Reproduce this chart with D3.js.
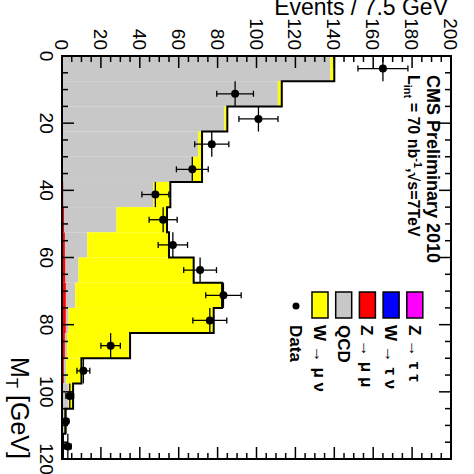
<!DOCTYPE html>
<html><head><meta charset="utf-8">
<script src="https://cdn.jsdelivr.net/npm/d3@7"></script>
<style>body{margin:0;background:#fff}svg{display:block}</style>
</head><body>
<script>
// bins of M_T, 7.5 GeV wide
const binEdges = [0, 7.5, 15, 22.5, 30, 37.5, 45, 52.5, 60, 67.5, 75, 82.5, 90, 97.5, 105, 112.5, 120]
const zmumu  = [0, 0, 0, 0, 0, 0.8, 1.2, 1.5, 1.8, 2, 2, 1.5, 1, 0.5, 0.3, 0.1]
const qcd    = [138, 111, 83.5, 70, 67, 46.2, 26.8, 11.5, 6.7, 4.8, 1.4, 1.1, 1.2, 2.9, 0.7, 0.3]
const wtaunu = [0, 0, 0, 0, 0, 0, 0, 0, 0, 0, 0, 0, 0, 0, 0, 0]
const ztautau = [0, 0, 0, 0, 0, 0, 0, 0, 0, 0, 0, 0, 0, 0, 0, 0]
const wmunu  = [2, 2, 1.5, 2, 5, 8.7, 26, 42, 59.2, 75.5, 74.6, 32.4, 7.8, 2.3, 0.7, 0.1]
const data   = [165, 89, 101, 77, 67, 48, 52, 57, 71, 83, 76, 25, 11, 4, 2, 3]

const layers = [
  { name: 'Z → μ μ', values: zmumu, color: '#ff0000' },
  { name: 'W → τ ν', values: wtaunu, color: '#0000ff' },
  { name: 'Z → τ τ', values: ztautau, color: '#ff00ff' },
  { name: 'QCD', values: qcd, color: '#c8c8c8' },
  { name: 'W → μ ν', values: wmunu, color: '#ffff00' },
]
const legendOrder = ['W → μ ν', 'QCD', 'Z → μ μ', 'W → τ ν', 'Z → τ τ']

const W = 474, H = 474
const svg = d3.select('body').append('svg').attr('width', W).attr('height', H)
  .style('font-family', 'Liberation Sans, Arial, sans-serif')

// chart is drawn rotated: events run left→right, M_T runs top→bottom
const x = d3.scaleLinear().domain([0, 200]).range([62, 451])
const y = d3.scaleLinear().domain([0, 120]).range([56, 459])

// stacked layers
const cum = binEdges.slice(0, -1).map(() => 0)
layers.forEach(l => {
  l.values.forEach((v, i) => {
    if (v <= 0) { return }
    svg.append('rect')
      .attr('x', x(cum[i])).attr('y', y(binEdges[i]))
      .attr('width', x(cum[i] + v) - x(cum[i]))
      .attr('height', y(binEdges[i + 1]) - y(binEdges[i]))
      .attr('fill', l.color)
    cum[i] += v
  })
})

// outline of total
let path = `M${x(0)},${y(0)}`
cum.forEach((c, i) => {
  path += `L${x(c)},${y(binEdges[i])}L${x(c)},${y(binEdges[i + 1])}`
})
path += `L${x(0)},${y(120)}`
svg.append('path').attr('d', path).attr('fill', 'none').attr('stroke', '#000').attr('stroke-width', 2)

// frame
svg.append('rect').attr('x', x(0)).attr('y', y(0))
  .attr('width', x(200) - x(0)).attr('height', y(120) - y(0))
  .attr('fill', 'none').attr('stroke', '#000').attr('stroke-width', 2)

// events ticks (top & bottom)
d3.range(0, 201, 5).forEach(v => {
  const len = v % 20 === 0 ? 12 : 6
  svg.append('line').attr('x1', x(v)).attr('x2', x(v)).attr('y1', y(0)).attr('y2', y(0) + len).attr('stroke', '#000').attr('stroke-width', 1.5)
  svg.append('line').attr('x1', x(v)).attr('x2', x(v)).attr('y1', y(120)).attr('y2', y(120) - len).attr('stroke', '#000').attr('stroke-width', 1.5)
})
// M_T ticks (left & right)
d3.range(0, 121, 5).forEach(v => {
  const len = v % 20 === 0 ? 12 : 6
  svg.append('line').attr('y1', y(v)).attr('y2', y(v)).attr('x1', x(200)).attr('x2', x(200) - len).attr('stroke', '#000').attr('stroke-width', 1.5)
  svg.append('line').attr('y1', y(v)).attr('y2', y(v)).attr('x1', x(0)).attr('x2', x(0) + len).attr('stroke', '#000').attr('stroke-width', 1.5)
})

// tick labels, rotated
d3.range(0, 201, 20).forEach(v => {
  svg.append('text').attr('transform', `translate(${x(v) - 7},50) rotate(90)`)
    .attr('text-anchor', 'end').attr('font-size', 19).text(v)
})
d3.range(0, 121, 20).forEach(v => {
  svg.append('text').attr('transform', `translate(40,${y(v)}) rotate(90)`)
    .attr('text-anchor', 'middle').attr('font-size', 19).text(v)
})

// axis titles
svg.append('text').attr('x', 448).attr('y', 15).attr('text-anchor', 'end')
  .attr('font-size', 23).text('Events / 7.5 GeV')
const mt = svg.append('text').attr('transform', `translate(11,459) rotate(90)`)
  .attr('text-anchor', 'end').attr('font-size', 25)
mt.append('tspan').text('M')
mt.append('tspan').attr('font-size', 17).attr('dy', 5).text('T')
mt.append('tspan').attr('dy', -5).text(' [GeV]')

// data points with errors
data.forEach((d, i) => {
  const cy = y((binEdges[i] + binEdges[i + 1]) / 2)
  const e = Math.sqrt(d)
  svg.append('line').attr('x1', x(d - e)).attr('x2', x(d + e)).attr('y1', cy).attr('y2', cy).attr('stroke', '#000').attr('stroke-width', 1.3)
  svg.append('line').attr('x1', x(d)).attr('x2', x(d)).attr('y1', y(binEdges[i])).attr('y2', y(binEdges[i + 1])).attr('stroke', '#000').attr('stroke-width', 1.3)
  ;[d - e, d + e].forEach(t => svg.append('line').attr('x1', x(t)).attr('x2', x(t)).attr('y1', cy - 3).attr('y2', cy + 3).attr('stroke', '#000').attr('stroke-width', 1.3))
  svg.append('circle').attr('cx', x(d)).attr('cy', cy).attr('r', 4).attr('fill', '#000')
})

// CMS label
svg.append('text').attr('transform', `translate(427,75) rotate(90)`)
  .attr('font-size', 18).attr('font-weight', 'bold').text('CMS Preliminary 2010')
const lum = svg.append('text').attr('transform', `translate(408,75) rotate(90)`).attr('font-size', 16).attr('font-weight', 'bold')
lum.append('tspan').text('L')
lum.append('tspan').attr('font-size', 11).attr('dy', 4).text('int')
lum.append('tspan').attr('dy', -4).text(' = 70 nb')
lum.append('tspan').attr('font-size', 11).attr('dy', -6).text('-1')
lum.append('tspan').attr('dy', 6).text(',√s=7TeV')

// legend
legendOrder.forEach((name, k) => {
  const l = layers.find(d => d.name === name)
  const lx = 312 + k * 23.7
  svg.append('rect').attr('x', lx).attr('y', 292).attr('width', 16).attr('height', 26)
    .attr('fill', l.color).attr('stroke', '#000').attr('stroke-width', 1.5)
  svg.append('text').attr('transform', `translate(${lx + 2},325) rotate(90)`)
    .attr('font-size', 17).attr('font-weight', 'bold').text(name)
})
svg.append('circle').attr('cx', 296).attr('cy', 306).attr('r', 3.5).attr('fill', '#000')
svg.append('text').attr('transform', `translate(290,325) rotate(90)`)
  .attr('font-size', 17).attr('font-weight', 'bold').text('Data')
</script>
</body></html>
